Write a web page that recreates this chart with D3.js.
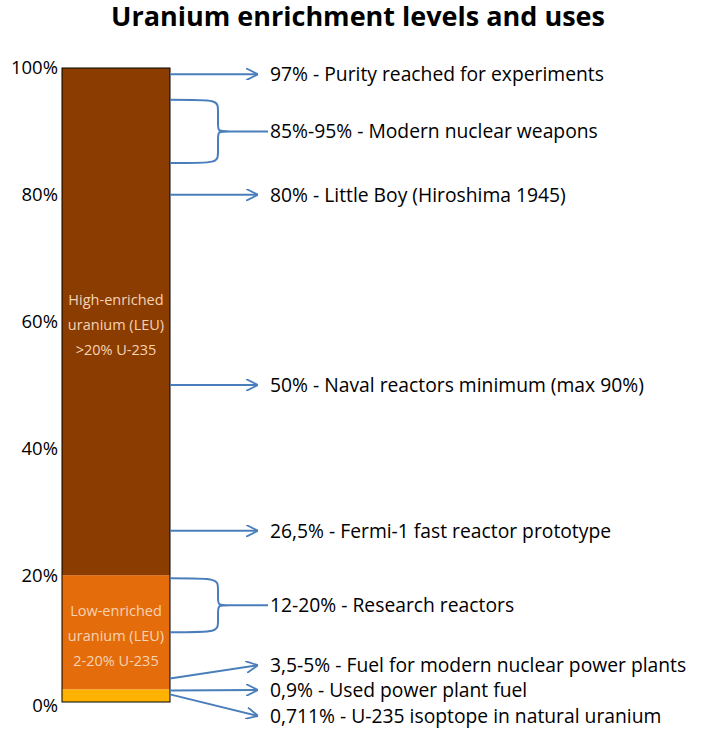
<!DOCTYPE html><html><head><meta charset="utf-8"><script src="https://cdn.jsdelivr.net/npm/d3@7"></script>
<style>body{margin:0;background:#fff}</style></head><body><svg id="c" width="719" height="730"></svg>
<script>
const segments=[{from:0,to:2,color:"#FFB300"},{from:2,to:20,color:"#E46C0A"},{from:20,to:100,color:"#8B3C00"}];
const segLabels=[{at:59.5,lines:["High-enriched","uranium (LEU)",">20% U-235"]},{at:10.5,lines:["Low-enriched","uranium (LEU)","2-20% U-235"]}];
const ticks=[0,20,40,60,80,100];
const arrows=[{from:99,to:99,label:"97% - Purity reached for experiments"},{from:80,to:80,label:"80% - Little Boy (Hiroshima 1945)"},{from:50,to:50,label:"50% - Naval reactors minimum (max 90%)"},{from:3.7,to:5.8,label:"3,5-5% - Fuel for modern nuclear power plants"},{from:1.8,to:1.9,label:"0,9% - Used power plant fuel"},{from:1.2,to:-2.2,label:"0,711% - U-235 isoptope in natural uranium"},{from:27,to:27,label:"26,5% - Fermi-1 fast reactor prototype"}];
const braces=[{lo:85,hi:95,label:"85%-95% - Modern nuclear weapons"},{lo:11,hi:19.5,label:"12-20% - Research reactors"}];
const svg=d3.select("#c");
const y=d3.scaleLinear().domain([0,100]).range([702,68]);
const x0=62,x1=170,xa=258,xt=270,blue="#4A7EBB";
svg.append("text").attr("x",358).attr("y",26).attr("text-anchor","middle").attr("font-family","Open Sans, sans-serif").attr("font-weight","bold").attr("font-size",27).text("Uranium enrichment levels and uses");
svg.append("defs").append("marker").attr("id","ah").attr("viewBox","0 0 10 10").attr("refX",10).attr("refY",5).attr("markerWidth",12).attr("markerHeight",12).attr("markerUnits","userSpaceOnUse").attr("orient","auto")
 .append("path").attr("d","M0,0L10,5L0,10").attr("fill","none").attr("stroke",blue).attr("stroke-width",1.5);
svg.selectAll("rect.s").data(segments).join("rect").attr("x",x0).attr("width",x1-x0).attr("y",d=>y(d.to)).attr("height",d=>y(d.from)-y(d.to)).attr("fill",d=>d.color);
svg.append("rect").attr("x",x0).attr("y",y(100)).attr("width",x1-x0).attr("height",y(0)-y(100)).attr("fill","none").attr("stroke","#000").attr("stroke-width",1);
svg.selectAll("text.t").data(ticks).join("text").attr("x",58).attr("y",d=>y(d)+(d==0?4:0)).attr("dy","0.35em").attr("text-anchor","end").attr("font-family","Open Sans, sans-serif").attr("font-size",18.5).text(d=>d+"%");
segLabels.forEach(s=>{s.lines.forEach((l,i)=>svg.append("text").attr("x",(x0+x1)/2).attr("y",y(s.at)+(i-1)*25).attr("dy","0.35em").attr("text-anchor","middle").attr("fill","#F6D3B5").attr("font-family","Open Sans, sans-serif").attr("font-size",14.5).text(l));});
const lab=(yy,t)=>svg.append("text").attr("x",xt).attr("y",yy).attr("dy","0.35em").attr("font-family","Open Sans, sans-serif").attr("font-size",19.3).attr("textLength",null).text(t);
arrows.forEach(a=>{svg.append("line").attr("x1",x1).attr("y1",y(a.from)).attr("x2",xa).attr("y2",y(a.to)).attr("stroke",blue).attr("stroke-width",2).attr("marker-end","url(#ah)");lab(y(a.to),a.label);});
braces.forEach(b=>{const t=y(b.hi),bt=y(b.lo),m=(t+bt)/2,bx=218;
 svg.append("path").attr("d",`M${x1},${t} C${bx},${t} ${bx},${t} ${bx},${t+12} L${bx},${m-8} C${bx},${m} ${bx},${m} ${bx+12},${m} C${bx},${m} ${bx},${m} ${bx},${m+8} L${bx},${bt-12} C${bx},${bt} ${bx},${bt} ${x1},${bt}`).attr("fill","none").attr("stroke",blue).attr("stroke-width",2);
 svg.append("line").attr("x1",bx+12).attr("y1",m).attr("x2",xt-2).attr("y2",m).attr("stroke",blue).attr("stroke-width",2);
 lab(m,b.label);});
</script></body></html>
